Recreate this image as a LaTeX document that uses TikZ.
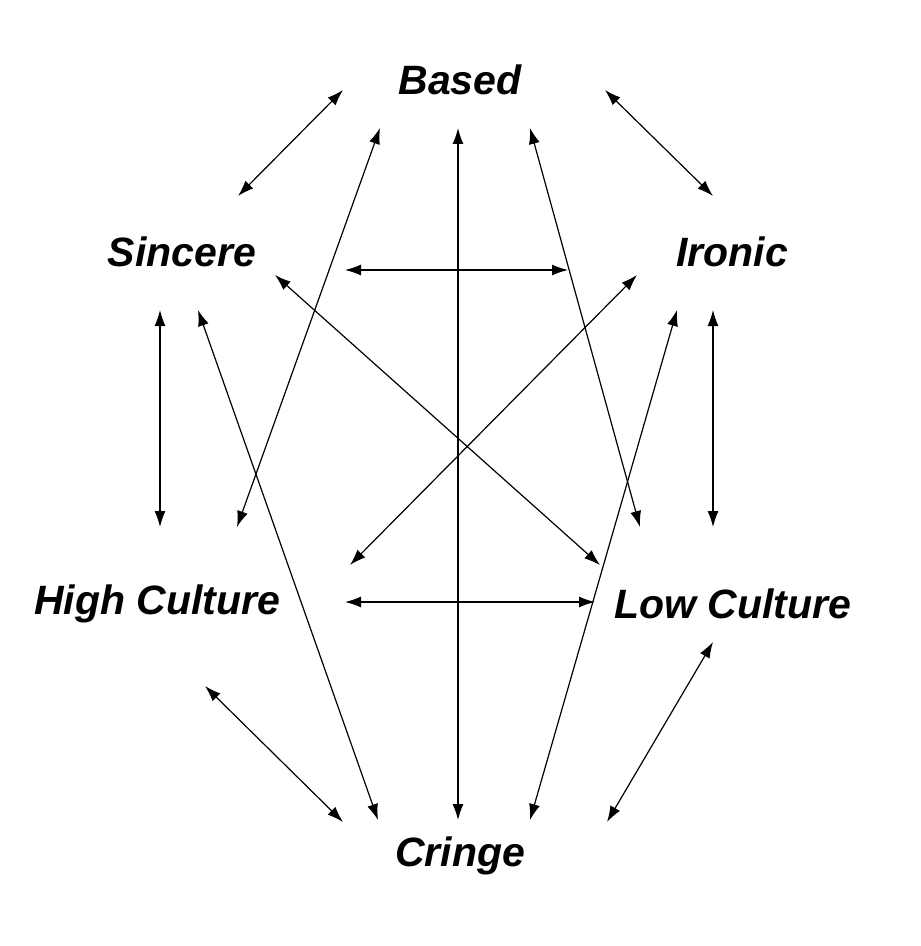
\documentclass[tikz,border=0pt]{standalone}
\usepackage{fontspec}
\setmainfont{Liberation Sans}
\usetikzlibrary{arrows.meta}
\begin{document}
\begin{tikzpicture}[x=0.5pt,y=-0.5pt,
  lbl/.style={font=\fontsize{20.5}{24}\selectfont\bfseries\itshape, inner sep=0pt},
  link/.style={line width=0.6pt, {Latex[length=8pt,width=5.5pt]}-{Latex[length=8pt,width=5.5pt]}}]
\useasboundingbox (0,0) rectangle (920,946);
\fill[white] (0,0) rectangle (920,946);
\node[lbl] (based) at (460,80) {Based};
\node[lbl] (sincere) at (182,252) {Sincere};
\node[lbl] (ironic) at (732,252) {Ironic};
\node[lbl] (high) at (157,604) {High Culture};
\node[lbl] (low) at (733,604) {Low Culture};
\node[lbl] (cringe) at (460,856) {Cringe};
\foreach \n/\a/\b/\c/\d in {
 a1/343/90/238/196, a2/380/128/237/527, a3/458/128/458/820,
 a4/530/128/640/527, a5/605/90/713/196, a6/345/270/568/270,
 a7/275/275/600/565, a8/637/275/350/565, a9/160/310/160/527,
 a10/713/310/713/527, a11/198/310/378/820, a12/677/310/530/820,
 a13/345/602/595/602, a14/205/686/343/822, a15/713/642/607/822}{
 \coordinate (\n s) at (\a,\b);
 \coordinate (\n e) at (\c,\d);
 \draw[link] (\n s) -- (\n e);
}
\end{tikzpicture}
\end{document}
